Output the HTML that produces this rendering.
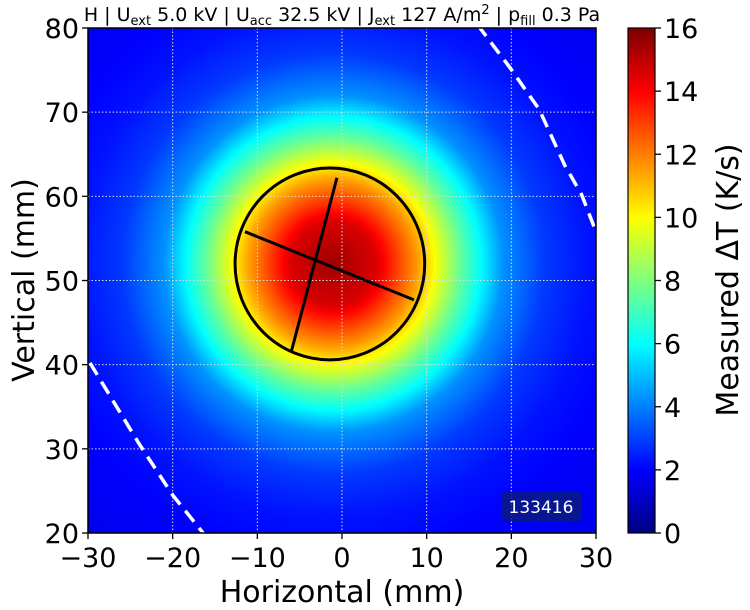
<!DOCTYPE html>
<html><head><meta charset="utf-8">
<style>
body{margin:0;background:#fff;width:750px;height:610px;overflow:hidden;font-family:"DejaVu Sans","Liberation Sans",sans-serif}
#wrap{position:relative;width:750px;height:610px}
canvas{position:absolute}
svg{position:absolute;left:0;top:0}
</style></head><body>
<div id="wrap">
<canvas id="heat" width="508" height="505" style="left:88px;top:28px"></canvas>
<canvas id="cbar" width="27" height="505" style="left:628px;top:28px"></canvas>
<svg id="svg" width="750" height="610"></svg>
</div>
<script>
const xTicks=[-30,-20,-10,0,10,20,30];
const yTicks=[20,30,40,50,60,70,80];
const cTicks=[0,2,4,6,8,10,12,14,16];
const profileR=[0,5,10,15,20,25,30,35,40,60];
const profileV=[15.5,14.6,11.5,7.6,4.3,2.9,2.3,2.0,1.8,1.6];
const beamCenter=[-1,52];
const fitEllipse=[-1.43,51.97,11.2,11.4];
const axis1=[-11.46,55.8,8.5,47.7];
const axis2=[-0.6,62.2,-6.0,41.5];
const apertureUpperX=[14.5,16.3,19.9,23.3,26.3,28.3,30,31];
const apertureUpperY=[82.5,80,75.2,70.3,63.7,60.2,55.8,53];
const apertureLowerX=[-31,-30,-23.9,-20,-16.4,-15];
const apertureLowerY=[42.5,40.6,30.5,24.5,20,18];

const L=88,R=596,T=28,B=533,CL=628,CR=655;
const X=v=>L+(v+30)/60*(R-L);
const Y=v=>B-(v-20)/60*(B-T);
const CY=v=>B-v/16*(B-T);
function jet(t){t=Math.max(0,Math.min(1,t));
 const r=Math.max(0,Math.min(1,1.5-Math.abs(4*t-3))),g=Math.max(0,Math.min(1,1.5-Math.abs(4*t-2))),b=Math.max(0,Math.min(1,1.5-Math.abs(4*t-1)));
 return [r*255,g*255,b*255];}
function prof(r){for(let i=1;i<profileR.length;i++){if(r<=profileR[i]){const f=(r-profileR[i-1])/(profileR[i]-profileR[i-1]);return profileV[i-1]+f*(profileV[i]-profileV[i-1]);}}return profileV[profileV.length-1];}
const hc=document.getElementById('heat').getContext('2d');
const img=hc.createImageData(508,505);
for(let j=0;j<505;j++)for(let i=0;i<508;i++){
 const xm=-30+(i+0.5)/508*60, ym=80-(j+0.5)/505*60;
 const r=Math.hypot(xm-beamCenter[0],ym-beamCenter[1]);
 const c=jet(prof(r)/16);const k=(j*508+i)*4;
 img.data[k]=c[0];img.data[k+1]=c[1];img.data[k+2]=c[2];img.data[k+3]=255;}
hc.putImageData(img,0,0);
const cc=document.getElementById('cbar').getContext('2d');
for(let j=0;j<505;j++){const c=jet(1-j/505);cc.fillStyle=`rgb(${c[0]|0},${c[1]|0},${c[2]|0})`;cc.fillRect(0,j,27,1);}
const svg=document.getElementById('svg');const NS='http://www.w3.org/2000/svg';
function el(t,a,p){const e=document.createElementNS(NS,t);for(const k in a)e.setAttribute(k,a[k]);(p||svg).appendChild(e);return e;}
const clip=el('clipPath',{id:'pc'});el('rect',{x:L,y:T,width:R-L,height:B-T},clip);
xTicks.slice(1,-1).forEach(v=>{const g=el('line',{x1:X(v),x2:X(v),y1:T,y2:B,stroke:'#ddd','stroke-width':1,'stroke-dasharray':'1.5,2'});

});
yTicks.slice(1,-1).forEach(v=>{const g=el('line',{x1:L,x2:R,y1:Y(v),y2:Y(v),stroke:'#ddd','stroke-width':1,'stroke-dasharray':'1.5,2'});

});
[[apertureUpperX,apertureUpperY],[apertureLowerX,apertureLowerY]].forEach(([xs,ys])=>{
 const pts=xs.map((x,i)=>X(x).toFixed(1)+','+Y(ys[i]).toFixed(1)).join(' ');
 const p=el('polyline',{points:pts,fill:'none',stroke:'#fff','stroke-width':3.5,'stroke-dasharray':'14,8','clip-path':'url(#pc)','stroke-linejoin':'round'});
 
 });
const fe=el('ellipse',{cx:X(fitEllipse[0]),cy:Y(fitEllipse[1]),rx:fitEllipse[2]/60*(R-L),ry:fitEllipse[3]/60*(B-T),fill:'none',stroke:'#000','stroke-width':3});


[axis1,axis2].forEach(a=>{const l=el('line',{x1:X(a[0]),y1:Y(a[1]),x2:X(a[2]),y2:Y(a[3]),stroke:'#000','stroke-width':3});

});
el('rect',{x:L,y:T,width:R-L,height:B-T,fill:'none',stroke:'#000','stroke-width':1.5});
el('rect',{x:CL,y:T,width:CR-CL,height:B-T,fill:'none',stroke:'#000','stroke-width':1.2});
xTicks.forEach(v=>{el('line',{x1:X(v),x2:X(v),y1:B,y2:B+6,stroke:'#000','stroke-width':1.3});
const t=el('text',{x:X(v),y:B+34,'font-size':27,'text-anchor':'middle'});t.textContent=(v<0?'\u2212'+(-v):v);

});
yTicks.forEach(v=>{el('line',{x1:L-6,x2:L,y1:Y(v),y2:Y(v),stroke:'#000','stroke-width':1.3});
const t=el('text',{x:L-9,y:Y(v)+10,'font-size':27,'text-anchor':'end'});t.textContent=v;

});
cTicks.forEach(v=>{el('line',{x1:CR,x2:CR+6,y1:CY(v),y2:CY(v),stroke:'#000','stroke-width':1.3});
const t=el('text',{x:CR+9,y:CY(v)+10,'font-size':27});t.textContent=v;

});
</script>
<svg width="750" height="610" style="position:absolute;left:0;top:0;pointer-events:none">
<text x="342" y="21" font-size="19" text-anchor="middle">H | U<tspan font-size="13" dy="4">ext</tspan><tspan dy="-4"> 5.0 kV | U</tspan><tspan font-size="13" dy="4">acc</tspan><tspan dy="-4"> 32.5 kV | J</tspan><tspan font-size="13" dy="4">ext</tspan><tspan dy="-4"> 127 A/m</tspan><tspan font-size="13" dy="-7">2</tspan><tspan dy="7"> | p</tspan><tspan font-size="13" dy="4">fill</tspan><tspan dy="-4"> 0.3 Pa</tspan></text>
<text x="342" y="602" font-size="30" text-anchor="middle">Horizontal (mm)</text>
<text transform="translate(34,280) rotate(-90)" font-size="30" text-anchor="middle">Vertical (mm)</text>
<text transform="translate(738,280) rotate(-90)" font-size="30" text-anchor="middle">Measured ΔT (K/s)</text>
<rect x="501" y="492" width="81" height="29" rx="5" fill="#0a1a80" opacity="0.85"/>
<text x="541" y="513" font-size="17" fill="#fff" text-anchor="middle">133416</text>
</svg>
</body></html>
